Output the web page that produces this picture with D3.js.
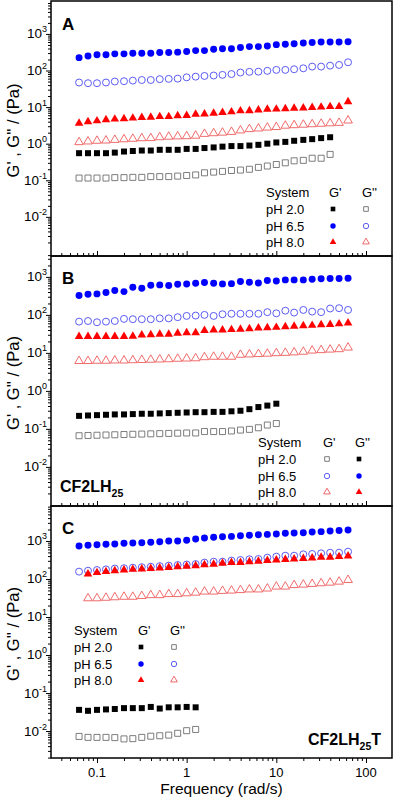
<!DOCTYPE html>
<html>
<head>
<meta charset="utf-8">
<script src="https://cdn.jsdelivr.net/npm/d3@7"></script>
<style>
  body { margin: 0; background: #fff; }
  svg { display: block; }
  text { font-family: "Liberation Sans", Arial, sans-serif; fill: #000; }
</style>
</head>
<body>
<div id="chart"></div>
<script>
// frequency points (rad/s), 10 per decade
var freq = [0.0631, 0.0794, 0.1, 0.126, 0.158, 0.2, 0.251, 0.316, 0.398, 0.501,
            0.631, 0.794, 1, 1.26, 1.58, 2, 2.51, 3.16, 3.98, 5.01,
            6.31, 7.94, 10, 12.6, 15.8, 20, 25.1, 31.6, 39.8, 50.1, 63.1];

// Panel A
var aG1_20 = [0.55, 0.55, 0.55, 0.55, 0.57, 0.61, 0.63, 0.65, 0.65, 0.68, 0.68, 0.68, 0.72, 0.72, 0.76,
              0.79, 0.83, 0.86, 0.86, 0.89, 0.93, 1.0, 1.08, 1.12, 1.2, 1.27, 1.33, 1.42, 1.5];
var aG2_20 = [0.115, 0.115, 0.115, 0.115, 0.118, 0.118, 0.12, 0.12, 0.126, 0.126, 0.126, 0.13, 0.135, 0.14, 0.16,
              0.167, 0.175, 0.185, 0.19, 0.2, 0.225, 0.245, 0.27, 0.3, 0.34, 0.35, 0.4, 0.4, 0.51];
var aG1_65 = [225, 250, 270, 270, 285, 285, 297, 297, 297, 310, 310, 318, 330, 350, 350, 380,
              395, 395, 424, 450, 450, 470, 510, 520, 540, 568, 580, 605, 605, 605, 615];
var aG2_65 = [47, 45, 45, 47, 50, 51, 53, 55, 55, 58, 59, 60, 65, 68, 71, 73,
              76, 80, 88, 92, 93, 98, 104, 104, 108, 115, 128, 128, 136, 142, 168];
var aG1_80 = [3.6, 4.0, 4.2, 4.5, 4.7, 4.8, 5.0, 5.2, 5.3, 5.5, 5.5, 5.8, 5.9, 6.4, 6.5, 6.8,
              7.1, 7.4, 7.9, 8.0, 8.3, 8.7, 8.8, 9.0, 9.3, 9.5, 9.8, 10.0, 10.3, 10.3, 14];
var aG2_80 = [1.1, 1.15, 1.2, 1.22, 1.27, 1.32, 1.36, 1.41, 1.42, 1.5, 1.55, 1.58, 1.6, 1.65, 1.85, 1.93,
              2.0, 2.1, 2.3, 2.5, 2.6, 2.75, 2.85, 3.1, 3.2, 3.3, 3.4, 3.5, 3.6, 3.7, 4.3];

// Panel B
var bG1_20 = [0.22, 0.225, 0.23, 0.235, 0.24, 0.24, 0.245, 0.25, 0.25, 0.255, 0.26, 0.265, 0.27, 0.275,
              0.275, 0.28, 0.28, 0.29, 0.30, 0.33, 0.375, 0.41, 0.46];
var bG2_20 = [0.066, 0.067, 0.068, 0.069, 0.07, 0.071, 0.072, 0.073, 0.074, 0.075, 0.076, 0.077, 0.078, 0.078,
              0.085, 0.085, 0.085, 0.088, 0.093, 0.097, 0.107, 0.126, 0.138];
var bG1_65 = [322, 351, 357, 389, 437, 410, 535, 503, 604, 616, 590, 642, 654, 682, 708, 682,
              655, 665, 755, 724, 695, 800, 780, 834, 834, 834, 868, 890, 905, 905, 925];
var bG2_65 = [66.5, 69, 64, 66.5, 69, 78.5, 77, 77, 77, 81, 81, 87, 94, 96, 100, 94,
              104, 107, 107, 107, 107, 118, 110, 129, 115, 135, 122, 118, 147, 150, 135];
var bG1_80 = [27, 27, 27, 27, 27, 27, 27.5, 29.6, 30, 31, 31, 33, 34, 34, 39, 40,
              40, 41, 42, 43, 45, 46, 47, 49, 50, 52, 53, 55, 56, 58, 61];
var bG2_80 = [6.1, 6.1, 6.2, 6.2, 6.3, 6.3, 6.4, 6.5, 6.6, 6.7, 6.8, 7.0, 7.1, 7.2, 7.7, 7.9,
              7.9, 7.9, 8.9, 9.1, 9.3, 9.5, 9.8, 10, 10.3, 10.7, 11.5, 11.8, 12.2, 12.5, 13.8];

// Panel C (pH 8.0 starts at the second frequency)
var cG1_20 = [0.036, 0.034, 0.036, 0.037, 0.038, 0.040, 0.040, 0.040, 0.043, 0.039, 0.042, 0.042, 0.043, 0.042];
var cG2_20 = [0.0072, 0.0068, 0.0068, 0.0068, 0.0067, 0.0062, 0.0063, 0.0068, 0.0073, 0.0075, 0.0078,
              0.0087, 0.0102, 0.011];
var cG1_65 = [740, 770, 800, 815, 835, 866, 880, 900, 920, 950, 1000, 1000, 1050, 1120, 1200, 1250,
              1290, 1320, 1380, 1410, 1460, 1490, 1530, 1590, 1620, 1650, 1720, 1760, 1830, 1880, 1950];
var cG2_65 = [156, 165, 172, 179, 188, 192, 198, 204, 210, 218, 224, 233, 240, 247, 270, 285,
              285, 305, 316, 330, 335, 364, 387, 410, 410, 446, 455, 474, 490, 492, 523];
var cG1_80 = [135, 147, 156, 165, 172, 179, 184, 188, 194, 200, 210, 217, 224, 238, 243,
              258, 270, 270, 285, 292, 305, 316, 325, 335, 345, 355, 374, 374, 387, 403];
var cG2_80 = [31, 31, 32, 33, 34, 34, 35.5, 37.5, 37.5, 40, 40, 42, 43.6, 46.5, 46.5,
              48.5, 49.5, 51, 53, 53, 56, 63, 63, 69, 71, 74, 77, 80, 85, 94];

var systems = ["pH 2.0", "pH 6.5", "pH 8.0"];
var xTickValues = [0.1, 1, 10, 100];
var xTickLabels = ["0.1", "1", "10", "100"];
var yExponents = [-2, -1, 0, 1, 2, 3];

// SVG size and plot frame
var svgWidth = 394;
var svgHeight = 798;
var plotLeft = 51, plotRight = 392;
var panelTop = [1, 256, 506];
var panelBottom = [256, 506, 758];
var yLogRange = [[-3.07, 3.90], [-3.03, 3.55], [-2.71, 3.92]];

// marker styles per system: [shape, filled colour, open colour]
var shapes = [d3.symbolSquare, d3.symbolCircle, d3.symbolTriangle];
var fillCol = ["#000000", "#0000ff", "#ff0000"];
var openCol = ["#6e6e6e", "#4a4af0", "#ee5a5a"];
var markSize = [36, 38, 32];

var panels = [
  { name: "A", series: [[aG1_20, 0], [aG2_20, 0], [aG1_65, 0], [aG2_65, 0], [aG1_80, 0], [aG2_80, 0]],
    legend: { x: 266, y: 192, g1: 329, g2: 362, s1: 333, s2: 366, rows: [209, 226, 242], swap: false } },
  { name: "B", series: [[bG1_20, 0], [bG2_20, 0], [bG1_65, 0], [bG2_65, 0], [bG1_80, 0], [bG2_80, 0]],
    legend: { x: 258, y: 442, g1: 323, g2: 355, s1: 327, s2: 359, rows: [459, 476, 492], swap: true },
    tag: { text: "CF2LH", sub: "25", after: "", x: 60, y: 492 } },
  { name: "C", series: [[cG1_20, 0], [cG2_20, 0], [cG1_65, 0], [cG2_65, 0], [cG1_80, 1], [cG2_80, 1]],
    legend: { x: 74, y: 630, g1: 138, g2: 170, s1: 141, s2: 174, rows: [647, 664, 680], swap: false },
    tag: { text: "CF2LH", sub: "25", after: "T", x: 308, y: 745 } }
];

var svg = d3.select("#chart")
  .append("svg")
  .attr("width", svgWidth)
  .attr("height", svgHeight);

var x = d3.scaleLog()
  .domain([0.0307, 195])
  .range([plotLeft, plotRight]);

var xMinor = [];
[0.01, 0.1, 1, 10, 100].forEach(function (d) {
  for (var k = 2; k <= 9; k++) {
    var v = d * k;
    if (v > x.domain()[0] && v < x.domain()[1]) xMinor.push(v);
  }
});

function drawMarker(g, sys, filled, cx, cy, scale) {
  var p = g.append("path")
    .attr("d", d3.symbol().type(shapes[sys]).size(markSize[sys] * scale)())
    .attr("transform", "translate(" + cx + "," + cy + ")");
  if (filled) {
    p.attr("fill", fillCol[sys]).attr("stroke", "none");
  } else {
    p.attr("fill", "none").attr("stroke", openCol[sys]).attr("stroke-width", 0.9);
  }
}

panels.forEach(function (panel, pi) {
  var top = panelTop[pi], bottom = panelBottom[pi];
  var y = d3.scaleLog()
    .domain([Math.pow(10, yLogRange[pi][0]), Math.pow(10, yLogRange[pi][1])])
    .range([bottom, top]);

  var g = svg.append("g");

  // data markers: series order G'(2.0), G''(2.0), G'(6.5), G''(6.5), G'(8.0), G''(8.0)
  panel.series.forEach(function (s, si) {
    var sys = Math.floor(si / 2);
    var filled = si % 2 === 0;
    var vals = s[0], start = s[1];
    vals.forEach(function (v, i) {
      drawMarker(g, sys, filled, x(freq[start + i]), y(v), 1);
    });
  });

  // y axis: decade ticks + minor ticks
  var yMinor = [];
  for (var e = -4; e <= 4; e++) {
    for (var k = 2; k <= 9; k++) {
      var v = k * Math.pow(10, e);
      if (v > y.domain()[0] && v < y.domain()[1]) yMinor.push(v);
    }
  }
  var yAxisG = g.append("g").attr("transform", "translate(" + plotLeft + ",0)");
  yAxisG.call(d3.axisLeft(y).tickValues(yExponents.map(function (e) { return Math.pow(10, e); }))
    .tickSize(5).tickFormat(""));
  yAxisG.append("g").call(d3.axisLeft(y).tickValues(yMinor).tickSize(3).tickFormat(""));
  yAxisG.selectAll("path.domain").remove();
  yAxisG.selectAll("line").attr("stroke", "#000").attr("stroke-width", 1);

  yExponents.forEach(function (e) {
    var t = g.append("text")
      .attr("x", 47)
      .attr("y", y(Math.pow(10, e)) + 4.5)
      .attr("text-anchor", "end")
      .style("font-size", "13.5px");
    t.append("tspan").text("10");
    t.append("tspan").attr("dy", -6).style("font-size", "9px").text(e < 0 ? "-" + (-e) : String(e));
  });

  // x axis ticks on the bottom of each panel
  var xAxisG = g.append("g").attr("transform", "translate(0," + bottom + ")");
  var outward = pi === 2;
  var axisFn = outward ? d3.axisBottom : d3.axisTop;
  xAxisG.call(axisFn(x).tickValues(xTickValues).tickSize(5).tickFormat(""));
  xAxisG.append("g").call(axisFn(x).tickValues(xMinor).tickSize(3).tickFormat(""));
  xAxisG.selectAll("path.domain").remove();
  xAxisG.selectAll("line").attr("stroke", "#000").attr("stroke-width", 1);

  // frame
  g.append("rect")
    .attr("x", plotLeft)
    .attr("y", top)
    .attr("width", plotRight - plotLeft)
    .attr("height", bottom - top)
    .attr("fill", "none")
    .attr("stroke", "#000")
    .attr("stroke-width", 1.5);

  // panel letter
  g.append("text")
    .attr("x", 62)
    .attr("y", top + (pi === 0 ? 29 : 28))
    .style("font-size", "17px")
    .style("font-weight", "bold")
    .text(panel.name);

  // y label
  g.append("text")
    .attr("transform", "translate(19," + ((top + bottom) / 2 + 2) + ") rotate(-90)")
    .attr("text-anchor", "middle")
    .style("font-size", "16.5px")
    .text("G' , G'' / (Pa)");

  // legend
  var L = panel.legend;
  g.append("text").attr("x", L.x).attr("y", L.y + 4.5).style("font-size", "13px").text("System");
  g.append("text").attr("x", L.g1).attr("y", L.y + 4.5).style("font-size", "13px").text("G'");
  g.append("text").attr("x", L.g2).attr("y", L.y + 4.5).style("font-size", "13px").text("G''");
  systems.forEach(function (name, ri) {
    var ry = L.rows[ri];
    g.append("text").attr("x", L.x).attr("y", ry + 4.5).style("font-size", "13px").text(name);
    drawMarker(g, ri, !L.swap, L.s1, ry, 0.6);
    drawMarker(g, ri, L.swap, L.s2, ry, 0.6);
  });

  // sample tag
  if (panel.tag) {
    var T = panel.tag;
    var tt = g.append("text")
      .attr("x", T.x)
      .attr("y", T.y)
      .style("font-size", "16px")
      .style("font-weight", "bold");
    tt.append("tspan").text(T.text);
    tt.append("tspan").attr("dy", 5).style("font-size", "10.5px").text(T.sub);
    if (T.after) tt.append("tspan").attr("dy", -5).text(T.after);
  }
});

// x tick labels and title
xTickValues.forEach(function (v, i) {
  svg.append("text")
    .attr("x", x(v))
    .attr("y", 777)
    .attr("text-anchor", "middle")
    .style("font-size", "13px")
    .text(xTickLabels[i]);
});

svg.append("text")
  .attr("x", (plotLeft + plotRight) / 2)
  .attr("y", 794)
  .attr("text-anchor", "middle")
  .style("font-size", "15.5px")
  .text("Frequency (rad/s)");
</script>
</body>
</html>
